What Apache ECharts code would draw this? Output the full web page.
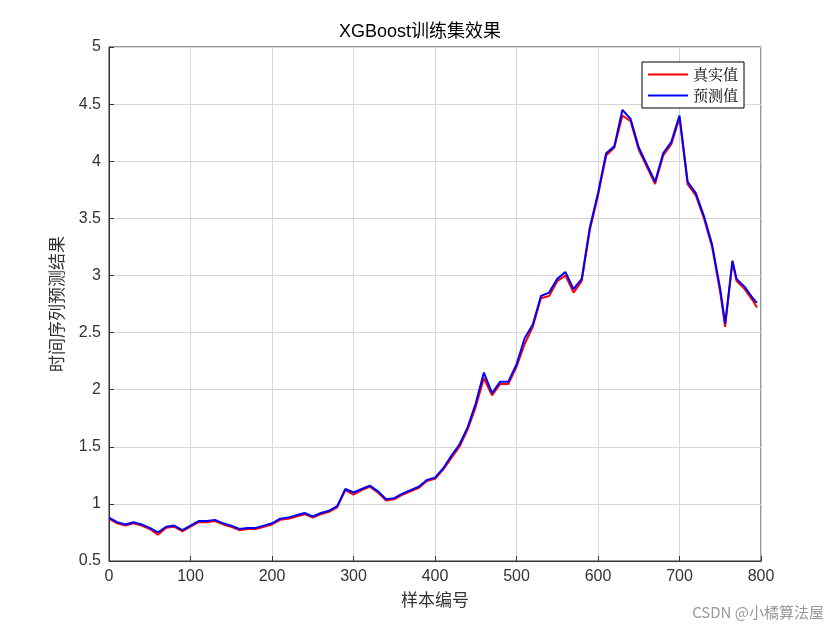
<!DOCTYPE html>
<html><head><meta charset="utf-8">
<script src="https://cdn.jsdelivr.net/npm/echarts@6/dist/echarts.min.js"></script>
<style>body{margin:0;background:#fff}#c{width:840px;height:630px}</style>
</head><body><div id="c"></div>
<script>
var sampleIdx = [0,10,20,30,40,50,60,70,80,90,100,110,120,130,140,150,160,170,180,190,200,210,220,230,240,250,260,270,280,290,300,310,320,330,340,350,360,370,380,390,400,410,420,430,440,450,460,470,480,490,500,510,520,530,540,550,560,570,580,590,600,610,620,630,640,650,660,670,680,690,700,710,720,730,740,750,756,765,770,780,790,795];
var trueVals = [0.87,0.83,0.81,0.83,0.81,0.78,0.73,0.79,0.80,0.76,0.80,0.84,0.84,0.85,0.82,0.80,0.77,0.78,0.78,0.80,0.82,0.86,0.87,0.89,0.91,0.88,0.91,0.93,0.97,1.12,1.08,1.12,1.15,1.10,1.03,1.04,1.08,1.11,1.14,1.20,1.22,1.30,1.40,1.50,1.65,1.85,2.10,1.95,2.05,2.05,2.20,2.40,2.55,2.80,2.82,2.95,3.00,2.85,2.95,3.40,3.70,4.05,4.12,4.40,4.35,4.10,3.95,3.80,4.05,4.15,4.38,3.80,3.70,3.50,3.25,2.85,2.55,3.12,2.95,2.88,2.78,2.72];
var predVals = [0.88,0.84,0.82,0.84,0.82,0.79,0.75,0.80,0.81,0.77,0.81,0.85,0.85,0.86,0.83,0.81,0.78,0.79,0.79,0.81,0.83,0.87,0.88,0.90,0.92,0.89,0.92,0.94,0.98,1.13,1.10,1.13,1.16,1.11,1.04,1.05,1.09,1.12,1.15,1.21,1.23,1.31,1.42,1.52,1.67,1.88,2.15,1.97,2.07,2.07,2.22,2.45,2.57,2.82,2.85,2.97,3.03,2.88,2.97,3.42,3.72,4.07,4.13,4.45,4.37,4.12,3.97,3.82,4.07,4.17,4.40,3.82,3.72,3.52,3.27,2.88,2.58,3.13,2.97,2.90,2.80,2.76];

function pairs(v){ return sampleIdx.map(function(x,i){ return [x, v[i]]; }); }

var chart = echarts.init(document.getElementById('c'));
var font = 'Arial, "Liberation Sans", "Noto Sans CJK SC", sans-serif';
chart.setOption({
    animation: false,
    title: {text: 'XGBoost训练集效果', left: 'center', top: 18,
        textStyle: {fontSize: 18, fontWeight: 'normal', color: '#000', fontFamily: font}},
    legend: {
        right: 96, top: 62, orient: 'vertical', itemWidth: 40, itemHeight: 2, itemGap: 6,
        borderColor: '#000', borderWidth: 1, padding: [5, 6], backgroundColor: '#fff',
        textStyle: {fontSize: 15, color: '#000', fontFamily: '"Noto Serif CJK SC", "Noto Sans CJK SC"'},
        data: [{name: '真实值', icon: 'rect'}, {name: '预测值', icon: 'rect'}]
    },
    grid: {left: 109, right: 79, top: 47, bottom: 69},
    xAxis: {
        type: 'value', min: 0, max: 800, interval: 100, name: '样本编号', nameLocation: 'middle', nameGap: 30,
        nameTextStyle: {fontSize: 17, color: '#333', fontFamily: '"Noto Sans CJK SC"'},
        axisLine: {lineStyle: {color: '#333'}}, axisTick: {inside: true},
        axisLabel: {fontSize: 16, color: '#333', fontFamily: font},
        splitLine: {lineStyle: {color: '#d6d6d6'}}
    },
    yAxis: {
        type: 'value', min: 0.5, max: 5, interval: 0.5, name: '时间序列预测结果', nameLocation: 'middle', nameGap: 44,
        nameTextStyle: {fontSize: 17, color: '#333', fontFamily: '"Noto Sans CJK SC"'},
        axisLine: {show: true, lineStyle: {color: '#333'}}, axisTick: {show: true, inside: true},
        axisLabel: {fontSize: 16, color: '#333', fontFamily: font},
        splitLine: {lineStyle: {color: '#d6d6d6'}}
    },
    series: [
        {name: '真实值', type: 'line', data: pairs(trueVals), showSymbol: false, lineStyle: {color: '#ff0000', width: 2}, itemStyle: {color: '#ff0000'}},
        {name: '预测值', type: 'line', data: pairs(predVals), showSymbol: false, lineStyle: {color: '#0000ff', width: 2}, itemStyle: {color: '#0000ff'}}
    ],
    graphic: [
        {type: 'rect', shape: {x: 109, y: 47, width: 652, height: 514}, style: {fill: 'none', stroke: '#333', lineWidth: 1}, silent: true},
        {type: 'text', right: 16, bottom: 10, style: {text: 'CSDN @小橘算法屋', fontSize: 15, fill: '#999', fontFamily: '"Noto Sans CJK SC"'}}
    ]
});
</script></body></html>
